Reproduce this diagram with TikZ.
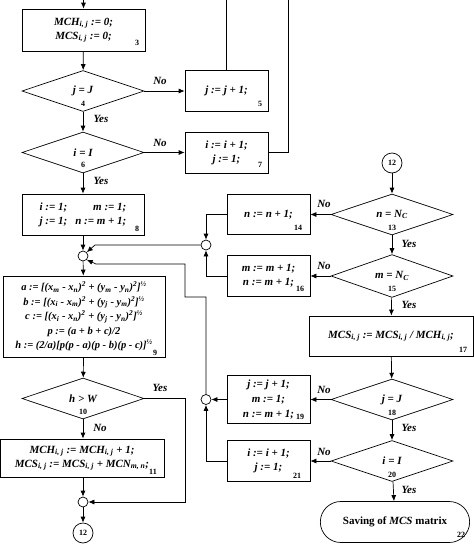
\documentclass[tikz,border=0pt]{standalone}
\usepackage{fontspec}
\setmainfont{Liberation Serif}
\usetikzlibrary{arrows.meta,shapes.geometric,shapes.misc}
\newcommand{\sbs}[1]{\textsubscript{#1}}
\newcommand{\hlf}{\textsuperscript{½}}
\newcommand{\sq}{\textsuperscript{2}}

\begin{document}
\begin{tikzpicture}[x=1pt,y=-1pt,>={Latex[length=6pt,width=5pt]},line width=0.7pt,
  every node/.style={font=\fontsize{11}{14}\selectfont\bfseries\itshape},
  blk/.style={draw,rectangle,inner sep=1pt,align=center},
  test/.style={draw,diamond,inner sep=0pt,minimum width=122,minimum height=41},
  jn/.style={draw,circle,inner sep=0pt,minimum size=10},
  conn/.style={draw,circle,inner sep=0pt,minimum size=20,font=\fontsize{8}{9}\selectfont\bfseries},
  num/.style={font=\fontsize{8}{9}\selectfont\bfseries,inner sep=0pt},
  ans/.style={inner sep=0pt}]
\useasboundingbox (0,0) rectangle (474,544);
% ---- left column: cell counters ----
\coordinate (in) at (83.5,0);
\node[blk,minimum width=123,minimum height=42] (b3) at (83.5,30) {MCH\sbs{i, j} := 0;\\ MCS\sbs{i, j} := 0;};
\node[num] (n3) at (137,43) {3};
\node[test] (d4) at (83,91) {j = J};
\node[num] (n4) at (83,104) {4};
\node[blk,minimum width=83,minimum height=41] (b5) at (226.5,91) {j := j + 1;};
\node[num] (n5) at (260,104) {5};
\node[test] (d6) at (83,152.5) {i = I};
\node[num] (n6) at (83,165) {6};
\node[blk,minimum width=83,minimum height=41] (b7) at (226.5,152.5) {i := i + 1;\\ j := 1;};
\node[num] (n7) at (260,165) {7};
\coordinate (out5) at (226.5,0);
\coordinate (out7) at (288,0);
\node[blk,minimum width=122,minimum height=41] (b8) at (83,214.5)
  {\begin{tabular}{@{}r@{\hspace{8pt}}r@{}}i := 1; & m := 1;\\ j := 1; & n := m + 1;\end{tabular}};
\node[num] (n8) at (137,229) {8};
\node[jn] (j1) at (83,256) {};
% ---- triangle height ----
\node[blk,minimum width=162,minimum height=81,font=\fontsize{10.5}{14.5}\selectfont\bfseries\itshape] (b9) at (84,316.5)
  {a := [(x\sbs{m} - x\sbs{n})\sq{} + (y\sbs{m} - y\sbs{n})\sq]\hlf\\
   b := [(x\sbs{i} - x\sbs{m})\sq{} + (y\sbs{j} - y\sbs{m})\sq]\hlf\\
   c := [(x\sbs{i} - x\sbs{n})\sq{} + (y\sbs{j} - y\sbs{n})\sq]\hlf\\
   p := (a + b + c)/2\\
   h := (2/a)[p(p - a)(p - b)(p - c)]\hlf};
\node[num] (n9) at (155,353) {9};
\node[test] (d10) at (83,398.5) {h > W};
\node[num] (n10) at (83,412) {10};
\node[blk,minimum width=164,minimum height=38] (b11) at (82,458)
  {MCH\sbs{i, j} := MCH\sbs{i, j} + 1;\\ MCS\sbs{i, j} := MCS\sbs{i, j} + MCN\sbs{m, n};};
\node[num] (n11) at (153,472) {11};
\node[jn] (j2) at (83,502) {};
\node[conn] (c12a) at (83,533) {12};
% ---- right column: pair and cell loops ----
\node[conn] (c12b) at (392,163) {12};
\node[test] (d13) at (392,214.5) {n = N\sbs{C}};
\node[num] (n13) at (392,228) {13};
\node[blk,minimum width=83,minimum height=40] (b14) at (268.5,214.5) {n := n + 1;};
\node[num] (n14) at (298,228) {14};
\node[test] (d15) at (392,276) {m = N\sbs{C}};
\node[num] (n15) at (392,289) {15};
\node[blk,minimum width=83,minimum height=41] (b16) at (268.5,276) {m := m + 1;\\ n := m + 1;};
\node[num] (n16) at (300,289) {16};
\node[jn] (j3) at (206,245) {};
\node[blk,minimum width=164,minimum height=40] (b17) at (391,336) {MCS\sbs{i, j} := MCS\sbs{i, j} / MCH\sbs{i, j};};
\node[num] (n17) at (463,350) {17};
\node[test] (d18) at (392,399.5) {j = J};
\node[num] (n18) at (392,413) {18};
\node[blk,minimum width=83,minimum height=48,font=\fontsize{11}{15}\selectfont\bfseries\itshape] (b19) at (268.5,399.5)
  {j := j + 1;\\ m := 1;\\ n := m + 1;};
\node[num] (n19) at (300,417) {19};
\node[jn] (j4) at (206,399.5) {};
\node[test] (d20) at (392,461) {i = I};
\node[num] (n20) at (392,475) {20};
\node[blk,minimum width=83,minimum height=41] (b21) at (268.5,461) {i := i + 1;\\ j := 1;};
\node[num] (n21) at (297,476) {21};
\node[draw,rounded rectangle,minimum width=156,minimum height=41,font=\fontsize{11}{14}\selectfont\bfseries] (t22) at (395,522)
  {Saving of \textit{MCS} matrix};
\node[num] (n22) at (461,535) {22};
% ---- answers ----
\node[ans] (no4) at (160,81) {No};
\node[ans] (yes4) at (101,119) {Yes};
\node[ans] (no6) at (160,143) {No};
\node[ans] (yes6) at (101,181) {Yes};
\node[ans] (yes10) at (160,388) {Yes};
\node[ans] (no10) at (100,428) {No};
\node[ans] (no13) at (324,204) {No};
\node[ans] (yes13) at (409,244) {Yes};
\node[ans] (no15) at (324,266) {No};
\node[ans] (yes15) at (409,305) {Yes};
\node[ans] (no18) at (324,390) {No};
\node[ans] (yes18) at (409,428) {Yes};
\node[ans] (no20) at (324,452) {No};
\node[ans] (yes20) at (409,490) {Yes};
% ---- connectors ----
\draw[->] (in) -- (b3);
\draw[->] (b3) -- (d4);
\draw[->] (d4) -- (b5);
\draw (b5) -- (out5);
\draw[->] (d4) -- (d6);
\draw[->] (d6) -- (b7);
\draw (b7.east) -| (out7);
\draw[->] (d6) -- (b8);
\draw[->] (b8) -- (j1);
\draw[->] (j1) -- (b9);
\draw[->] (b9) -- (d10);
\draw[->] (d10.south) -- (d10.south |- b11.north);
\draw[->] (d10.east) -| (185,502) -- (j2.east);
\draw[->] (b11.south -| j2) -- (j2);
\draw[->] (j2) -- (c12a);
\draw[->] (c12b) -- (d13);
\draw[->] (d13) -- (b14);
\draw[->] (d13) -- (d15);
\draw[->] (d15) -- (b16);
\draw[->] (d15) -- (b17);
\draw[->] (b14.west) -| (j3.north);
\draw[->] (b16.west) -| (j3.south);
\draw[->] (j3.west) -- (95,245) -- (j1.north east);
\draw[->] (b17) -- (d18);
\draw[->] (d18) -- (b19);
\draw[->] (d18) -- (d20);
\draw[->] (d20) -- (b21);
\draw[->] (d20) -- (t22);
\draw[->] (b19) -- (j4);
\draw[->] (b21.west) -| (j4.south);
\draw[->] (j4.north) |- (185,297) |- (96,264) -- (j1.south east);
\end{tikzpicture}
\end{document}
